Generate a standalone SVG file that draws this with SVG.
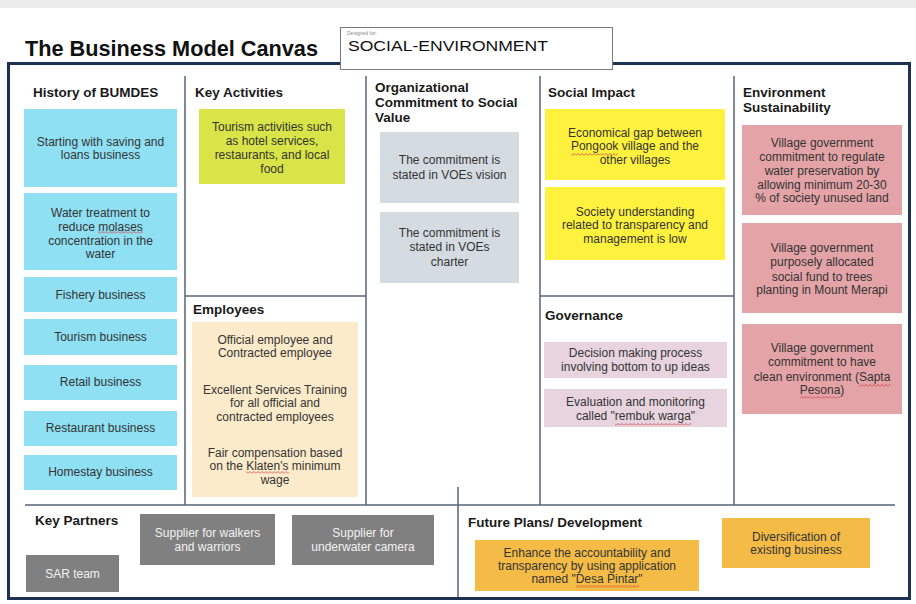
<svg xmlns="http://www.w3.org/2000/svg" width="916" height="604" viewBox="0 0 916 604">
<defs>
<style>
text{font-family:"Liberation Sans",Arial,sans-serif;}
.t{font-size:12px;fill:#333;text-anchor:middle;}
.tw{font-size:12px;fill:#f2f2f2;text-anchor:middle;}
.h{font-size:13.5px;font-weight:bold;fill:#1a1a1a;}
.ln{stroke:#55657a;stroke-width:1.5;fill:none;}
.cyan{fill:#8fe0f3;}
.lime{fill:#d8e447;}
.peach{fill:#fcebca;}
.grayb{fill:#d5dce1;}
.yel{fill:#fff23e;}
.lil{fill:#e7d4df;}
.rose{fill:#e4a4a7;}
.dg{fill:#808080;}
.org{fill:#f4bb47;}
.sq{fill:url(#wave);}
</style>
<pattern id="wave" width="4" height="3" patternUnits="userSpaceOnUse">
<path d="M0 2.5 L2 0.5 L4 2.5" stroke="#d04040" stroke-width="0.8" fill="none"/>
</pattern>
</defs>
<rect x="0" y="0" width="916" height="604" fill="#ffffff"/>
<rect x="0" y="0" width="916" height="8" fill="#ececec"/>

<g id="title">
<text x="25" y="56" font-size="22" font-weight="bold" fill="#111" textLength="293" lengthAdjust="spacingAndGlyphs">The Business Model Canvas</text>
</g>

<g id="frame">
<rect x="8.5" y="63.5" width="901" height="535" fill="none" stroke="#1d3253" stroke-width="3"/>
</g>

<g id="designed-for">
<rect x="340.5" y="27.5" width="272" height="42" fill="#ffffff" stroke="#7a7a7a" stroke-width="1"/>
<text x="347" y="35" font-size="5" fill="#888">Designed for:</text>
<text x="348" y="51" font-size="15.5" fill="#111" textLength="200" lengthAdjust="spacingAndGlyphs">SOCIAL-ENVIRONMENT</text>
</g>

<g id="connectors">
<line class="ln" x1="185" y1="76" x2="185" y2="505"/>
<line class="ln" x1="366" y1="76" x2="366" y2="505"/>
<line class="ln" x1="540" y1="76" x2="540" y2="505"/>
<line class="ln" x1="734" y1="76" x2="734" y2="505"/>
<line class="ln" x1="25" y1="505" x2="895" y2="505"/>
<line class="ln" x1="185" y1="296" x2="366" y2="296"/>
<line class="ln" x1="540" y1="296" x2="734" y2="296"/>
<line class="ln" x1="458" y1="487" x2="458" y2="597"/>
</g>

<g id="history">
<text class="h" x="33" y="97">History of BUMDES</text>
<g id="h1"><rect class="cyan" x="24" y="109" width="153" height="78"/>
<text class="t" x="100.5" y="146">Starting with saving and</text><text class="t" x="100.5" y="159">loans business</text></g>
<g id="h2"><rect class="cyan" x="24" y="193" width="153" height="77"/>
<text class="t" x="100.5" y="217">Water treatment to</text><text class="t" x="100.5" y="231">reduce molases</text><text class="t" x="100.5" y="245">concentration in the</text><text class="t" x="100.5" y="258">water</text>
<rect class="sq" x="98" y="231" width="45" height="3"/></g>
<g id="h3"><rect class="cyan" x="24" y="277" width="153" height="35"/><text class="t" x="100.5" y="299">Fishery business</text></g>
<g id="h4"><rect class="cyan" x="24" y="319" width="153" height="36"/><text class="t" x="100.5" y="341">Tourism business</text></g>
<g id="h5"><rect class="cyan" x="24" y="365" width="153" height="35"/><text class="t" x="100.5" y="386">Retail business</text></g>
<g id="h6"><rect class="cyan" x="24" y="411" width="153" height="35"/><text class="t" x="100.5" y="432">Restaurant business</text></g>
<g id="h7"><rect class="cyan" x="24" y="455" width="153" height="35"/><text class="t" x="100.5" y="476">Homestay business</text></g>
</g>

<g id="key-activities">
<text class="h" x="195" y="97">Key Activities</text>
<g id="ka1"><rect class="lime" x="199" y="109" width="146" height="75"/>
<text class="t" x="272" y="131">Tourism activities such</text><text class="t" x="272" y="145">as hotel services,</text><text class="t" x="272" y="159">restaurants, and local</text><text class="t" x="272" y="173">food</text></g>
</g>

<g id="employees">
<text class="h" x="193" y="314">Employees</text>
<g id="emp1"><rect class="peach" x="192" y="322" width="166" height="175"/>
<text class="t" x="275" y="344">Official employee and</text><text class="t" x="275" y="357">Contracted employee</text>
<text class="t" x="275" y="394">Excellent Services Training</text><text class="t" x="275" y="407">for all official and</text><text class="t" x="275" y="421">contracted employees</text>
<text class="t" x="275" y="457">Fair compensation based</text><text class="t" x="275" y="470">on the Klaten's minimum</text><text class="t" x="275" y="484">wage</text>
<rect class="sq" x="246" y="471" width="43" height="3"/></g>
</g>

<g id="org-commitment">
<text class="h" x="375" y="92">Organizational</text>
<text class="h" x="375" y="107">Commitment to Social</text>
<text class="h" x="375" y="122">Value</text>
<g id="oc1"><rect class="grayb" x="380" y="132" width="139" height="71"/>
<text class="t" x="449.5" y="164">The commitment is</text><text class="t" x="449.5" y="179">stated in VOEs vision</text></g>
<g id="oc2"><rect class="grayb" x="380" y="212" width="139" height="71"/>
<text class="t" x="449.5" y="237">The commitment is</text><text class="t" x="449.5" y="251">stated in VOEs</text><text class="t" x="449.5" y="266">charter</text></g>
</g>

<g id="social-impact">
<text class="h" x="548" y="97">Social Impact</text>
<g id="si1"><rect class="yel" x="545" y="109" width="180" height="71"/>
<text class="t" x="635" y="137">Economical gap between</text><text class="t" x="635" y="150">Pongook village and the</text><text class="t" x="635" y="164">other villages</text>
<rect class="sq" x="571" y="153" width="47" height="3"/></g>
<g id="si2"><rect class="yel" x="545" y="187" width="180" height="73"/>
<text class="t" x="635" y="216">Society understanding</text><text class="t" x="635" y="229">related to transparency and</text><text class="t" x="635" y="243">management is low</text></g>
</g>

<g id="governance">
<text class="h" x="545" y="320">Governance</text>
<g id="gv1"><rect class="lil" x="544" y="342" width="183" height="36"/>
<text class="t" x="635.5" y="357">Decision making process</text><text class="t" x="635.5" y="371">involving bottom to up ideas</text></g>
<g id="gv2"><rect class="lil" x="544" y="389" width="183" height="38"/>
<text class="t" x="635.5" y="406">Evaluation and monitoring</text><text class="t" x="635.5" y="420">called "rembuk warga"</text>
<rect class="sq" x="615" y="423" width="76" height="3"/></g>
</g>

<g id="environment">
<text class="h" x="743" y="97">Environment</text>
<text class="h" x="743" y="112">Sustainability</text>
<g id="es1"><rect class="rose" x="742" y="125" width="160" height="90"/>
<text class="t" x="822" y="147">Village government</text><text class="t" x="822" y="161">commitment to regulate</text><text class="t" x="822" y="175">water preservation by</text><text class="t" x="822" y="189">allowing minimum 20-30</text><text class="t" x="822" y="202">% of society unused land</text></g>
<g id="es2"><rect class="rose" x="742" y="223" width="160" height="90"/>
<text class="t" x="822" y="252">Village government</text><text class="t" x="822" y="266">purposely allocated</text><text class="t" x="822" y="281">social fund to trees</text><text class="t" x="822" y="294">planting in Mount Merapi</text></g>
<g id="es3"><rect class="rose" x="742" y="324" width="160" height="90"/>
<text class="t" x="822" y="352">Village government</text><text class="t" x="822" y="366">commitment to have</text><text class="t" x="822" y="381">clean environment (Sapta</text><text class="t" x="822" y="394">Pesona)</text>
<rect class="sq" x="859" y="384" width="32" height="3"/><rect class="sq" x="800" y="396" width="40" height="3"/></g>
</g>

<g id="key-partners">
<text class="h" x="35" y="525">Key Partners</text>
<g id="kp1"><rect class="dg" x="140" y="514" width="135" height="51"/>
<text class="tw" x="207.5" y="537">Supplier for walkers</text><text class="tw" x="207.5" y="551">and warriors</text></g>
<g id="kp2"><rect class="dg" x="292" y="515" width="142" height="50"/>
<text class="tw" x="363" y="537">Supplier for</text><text class="tw" x="363" y="551">underwater camera</text></g>
<g id="kp3"><rect class="dg" x="26" y="555" width="93" height="37"/>
<text class="tw" x="72.5" y="578">SAR team</text></g>
</g>

<g id="future-plans">
<text class="h" x="468" y="527">Future Plans/ Development</text>
<g id="fp1"><rect class="org" x="475" y="540" width="224" height="51"/>
<text class="t" x="587" y="557">Enhance the accountability and</text><text class="t" x="587" y="570">transparency by using application</text><text class="t" x="587" y="583">named "Desa Pintar"</text>
<rect class="sq" x="576" y="585" width="63" height="3"/></g>
<g id="fp2"><rect class="org" x="722" y="518" width="148" height="50"/>
<text class="t" x="796" y="541">Diversification of</text><text class="t" x="796" y="554">existing business</text></g>
</g>
</svg>
